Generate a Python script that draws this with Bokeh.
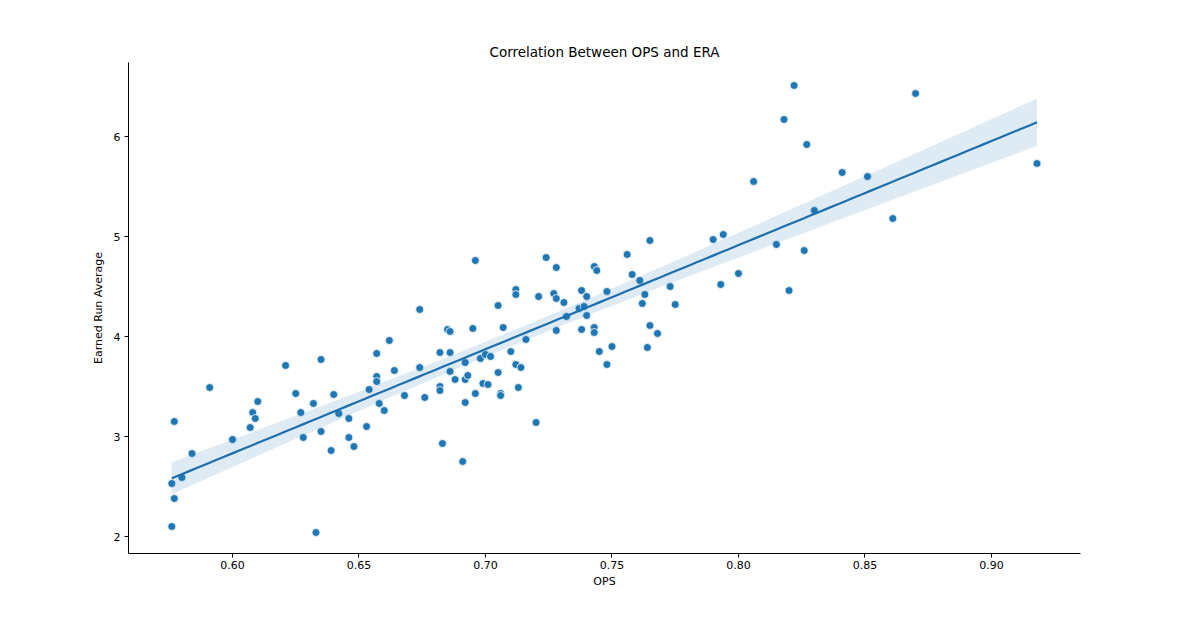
import numpy as np
from bokeh.plotting import figure
from bokeh.models import Range1d, FixedTicker, NumeralTickFormatter
from bokeh.embed import file_html
from bokeh.resources import INLINE

# Team batting OPS against team earned run average
ops = [
    0.576, 0.577, 0.577, 0.576, 0.580, 0.584, 0.591, 0.600, 0.607, 0.608,
    0.609, 0.610, 0.621, 0.625, 0.627, 0.628, 0.632, 0.635, 0.635, 0.633,
    0.639, 0.640, 0.642, 0.646, 0.646, 0.648, 0.653, 0.654, 0.657, 0.657,
    0.657, 0.658, 0.660, 0.662, 0.664, 0.668, 0.674, 0.674, 0.676, 0.682,
    0.682, 0.682, 0.683, 0.685, 0.686, 0.686, 0.686, 0.688, 0.691, 0.692,
    0.692, 0.693, 0.692, 0.695, 0.696, 0.698, 0.700, 0.702, 0.699, 0.701,
    0.696, 0.705, 0.705, 0.706, 0.706, 0.707, 0.710, 0.712, 0.712, 0.712,
    0.714, 0.713, 0.716, 0.720, 0.721, 0.724, 0.727, 0.728, 0.728, 0.728,
    0.731, 0.732, 0.737, 0.738, 0.738, 0.739, 0.740, 0.740, 0.743, 0.744,
    0.743, 0.743, 0.745, 0.748, 0.748, 0.750, 0.756, 0.758, 0.761, 0.763,
    0.762, 0.765, 0.765, 0.764, 0.768, 0.773, 0.775, 0.790, 0.794, 0.800,
    0.793, 0.806, 0.815, 0.818, 0.822, 0.820, 0.826, 0.827, 0.830, 0.841,
    0.851, 0.870, 0.861, 0.918,
]
era = [
    2.53, 3.15, 2.38, 2.10, 2.59, 2.83, 3.49, 2.97, 3.09, 3.24,
    3.18, 3.35, 3.71, 3.43, 3.24, 2.99, 3.33, 3.77, 3.05, 2.04,
    2.86, 3.42, 3.23, 3.18, 2.99, 2.90, 3.10, 3.47, 3.83, 3.60,
    3.55, 3.33, 3.26, 3.96, 3.66, 3.41, 4.27, 3.69, 3.39, 3.84,
    3.50, 3.46, 2.93, 4.07, 4.05, 3.84, 3.65, 3.57, 2.75, 3.74,
    3.57, 3.61, 3.34, 4.08, 4.76, 3.78, 3.82, 3.80, 3.53, 3.52,
    3.43, 4.31, 3.64, 3.43, 3.41, 4.09, 3.85, 4.47, 4.42, 3.72,
    3.69, 3.49, 3.97, 3.14, 4.40, 4.79, 4.43, 4.69, 4.38, 4.06,
    4.34, 4.20, 4.28, 4.46, 4.07, 4.30, 4.40, 4.21, 4.70, 4.66,
    4.09, 4.04, 3.85, 4.45, 3.72, 3.90, 4.82, 4.62, 4.56, 4.42,
    4.33, 4.96, 4.11, 3.89, 4.03, 4.50, 4.32, 4.97, 5.02, 4.63,
    4.52, 5.55, 4.92, 6.17, 6.51, 4.46, 4.86, 5.92, 5.26, 5.64,
    5.60, 6.43, 5.18, 5.73,
]
x_ticks = [0.60, 0.65, 0.70, 0.75, 0.80, 0.85, 0.90]
y_ticks = [2, 3, 4, 5, 6]

# Least-squares fit with a 95% confidence band for the mean
x = np.array(ops)
y = np.array(era)
n = len(x)
slope, intercept = np.polyfit(x, y, 1)
grid = np.linspace(x.min(), x.max(), 100)
fit = intercept + slope * grid
resid = y - (intercept + slope * x)
s = np.sqrt(np.sum(resid ** 2) / (n - 2))
sxx = np.sum((x - x.mean()) ** 2)
se = s * np.sqrt(1.0 / n + (grid - x.mean()) ** 2 / sxx)
lo = fit - 1.98 * se
hi = fit + 1.98 * se

BLUE = "#1f77b4"
FONT = "DejaVu Sans"

p = figure(
    width=1200, height=628,
    x_range=Range1d(0.5589, 0.9352), y_range=Range1d(1.83, 6.74),
    output_backend="svg", toolbar_location=None,
    min_border_left=128, min_border_right=120,
    min_border_top=62, min_border_bottom=75,
    title="Correlation Between OPS and ERA",
)
p.outline_line_color = None
p.background_fill_color = "white"
p.border_fill_color = "white"
p.xgrid.visible = False
p.ygrid.visible = False

p.title.align = "center"
p.title.text_font = FONT
p.title.text_font_size = "13.5px"
p.title.text_font_style = "normal"
p.title.text_color = "black"
p.title.standoff = 6

p.scatter(ops, era, size=8, fill_color=BLUE, line_color="white", line_width=0.8)
p.varea(x=grid, y1=lo, y2=hi, fill_color=BLUE, fill_alpha=0.15)
p.line(grid, fit, line_color="#1b6fae", line_width=2.2)

p.xaxis.ticker = FixedTicker(ticks=x_ticks)
p.xaxis.formatter = NumeralTickFormatter(format="0.00")
p.yaxis.ticker = FixedTicker(ticks=y_ticks)
p.xaxis.axis_label = "OPS"
p.yaxis.axis_label = "Earned Run Average"

for ax in (p.xaxis, p.yaxis):
    ax.axis_line_color = "black"
    ax.axis_line_width = 1
    ax.major_tick_line_color = "black"
    ax.major_tick_out = 4
    ax.major_tick_in = 0
    ax.minor_tick_line_color = None
    ax.major_label_text_font = FONT
    ax.major_label_text_font_size = "11px"
    ax.major_label_text_color = "black"
    ax.axis_label_text_font = FONT
    ax.axis_label_text_font_size = "11px"
    ax.axis_label_text_font_style = "normal"
    ax.axis_label_text_color = "black"
p.xaxis.major_label_standoff = 3
p.xaxis.axis_label_standoff = 3
p.yaxis.major_label_standoff = 4
p.yaxis.axis_label_standoff = 6

open("out.html", "w").write(file_html(p, INLINE))
